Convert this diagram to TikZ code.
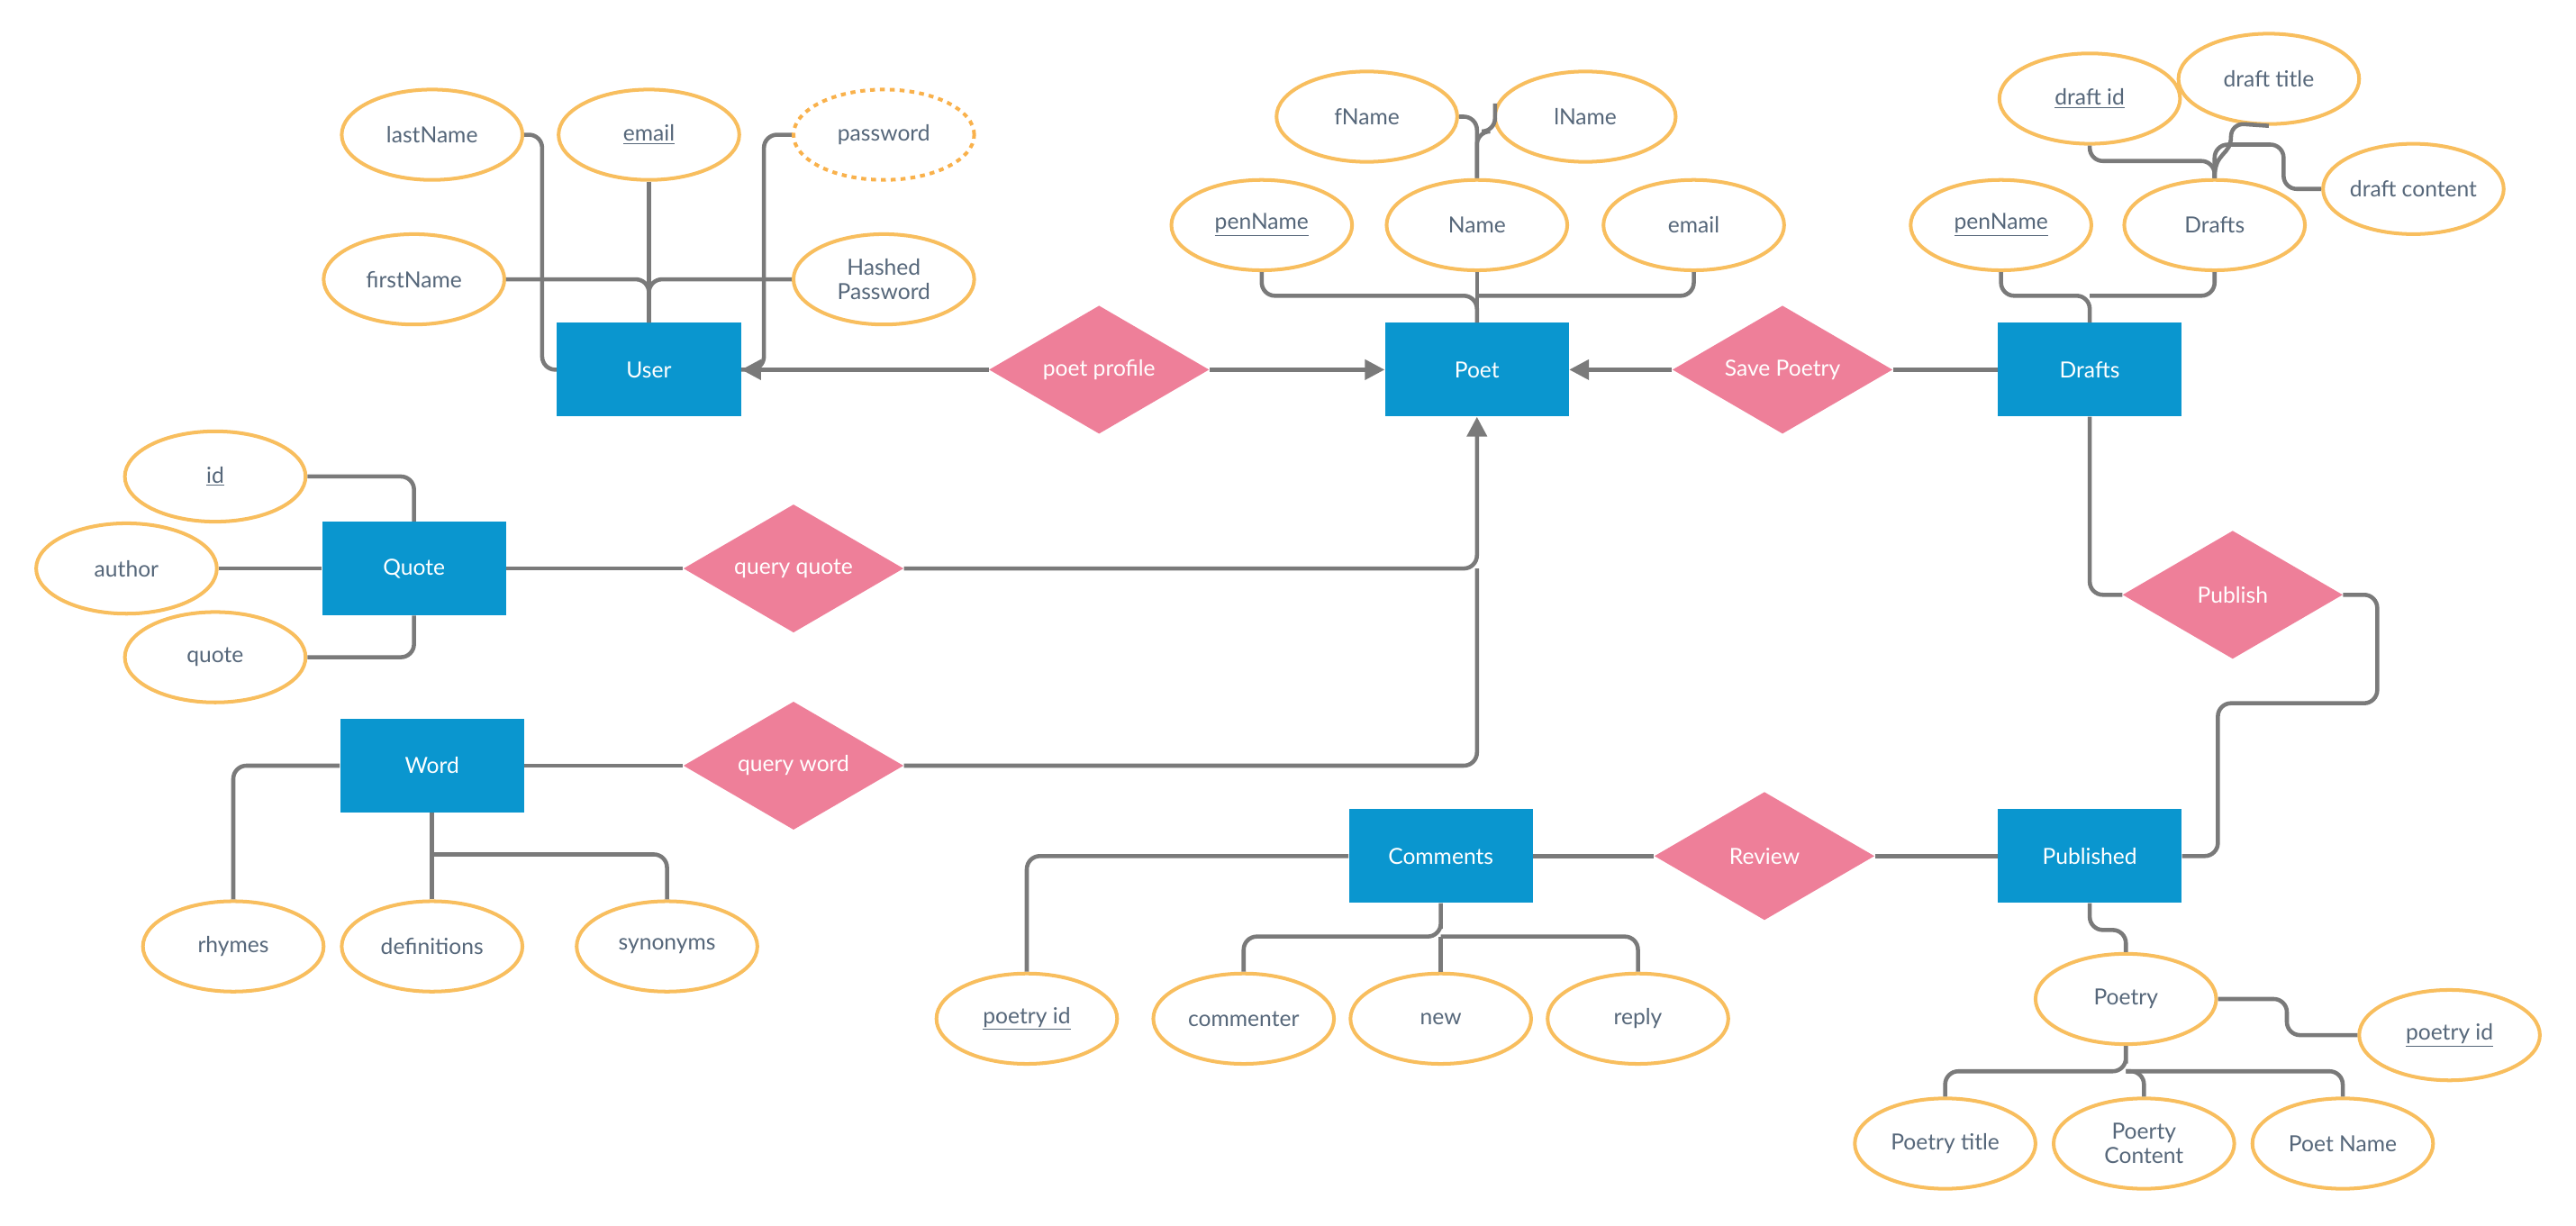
\documentclass[tikz,border=0pt]{standalone}
\usepackage{fontspec}
\setmainfont{Lato}
\usetikzlibrary{shapes.geometric,arrows.meta,calc}
\definecolor{ent}{HTML}{0A96CF}
\definecolor{rel}{HTML}{EE7F99}
\definecolor{att}{HTML}{F8BE5E}
\definecolor{ln}{HTML}{7A7A7A}
\definecolor{tx}{HTML}{56677A}
\begin{document}
\begin{tikzpicture}[x=1pt,y=-1pt,
  every node/.style={font=\fontsize{13.5}{16}\selectfont},
  E/.style={rectangle,fill=ent,text=white,minimum width=112pt,minimum height=57pt,inner sep=0pt},
  R/.style={diamond,fill=rel,text=white,minimum width=134pt,minimum height=78pt,aspect=1.72,inner sep=0pt},
  A/.style={ellipse,draw=att,line width=2.2pt,fill=white,text=tx,minimum width=110pt,minimum height=55pt,inner sep=0pt,align=center},
  K/.style={A,dashed,draw=att!80!orange},
  L/.style={draw=ln,line width=2.5pt,rounded corners=8pt},
  AR/.style={L,-{Triangle[length=12pt,width=12pt]}}]
\useasboundingbox (0,0) rectangle (1568,746);
% entities
\node[E] (user) at (395,225) {User};
\node[E] (poet) at (899,225) {Poet};
\node[E] (drafts) at (1272,225) {Drafts};
\node[E] (quote) at (252,346) {Quote};
\node[E] (word) at (263,466) {Word};
\node[E] (comm) at (877,521) {Comments};
\node[E] (pub) at (1272,521) {Published};
% relationships
\node[R] (pp) at (669,225) {poet profile};
\node[R] (sp) at (1085,225) {Save Poetry};
\node[R] (qq) at (483,346) {query quote};
\node[R] (qw) at (483,466) {query word};
\node[R] (publ) at (1359,362) {Publish};
\node[R] (rev) at (1074,521) {Review};
% attributes
\node[A] (lastn) at (263,82) {lastName};
\node[A] (uemail) at (395,82) {\underline{email}};
\node[K] (pw) at (538,82) {password};
\node[A] (firstn) at (252,170) {firstName};
\node[A] (hpw) at (538,170) {Hashed\\[-1pt]Password};
\node[A] (fn) at (832,71) {fName};
\node[A] (lnm) at (965,71) {lName};
\node[A] (pen1) at (768,137) {\underline{penName}};
\node[A] (name) at (899,137) {Name};
\node[A] (pemail) at (1031,137) {email};
\node[A] (did) at (1272,60) {\underline{draft id}};
\node[A] (dtitle) at (1381,48) {draft title};
\node[A] (dcont) at (1469,115) {draft content};
\node[A] (pen2) at (1218,137) {\underline{penName}};
\node[A] (dr) at (1348,137) {Drafts};
\node[A] (qid) at (131,290) {\underline{id}};
\node[A] (auth) at (77,346) {author};
\node[A] (qt) at (131,400) {quote};
\node[A] (rhy) at (142,576) {rhymes};
\node[A] (defs) at (263,576) {definitions};
\node[A] (syn) at (406,576) {synonyms};
\node[A] (cpid) at (625,620) {\underline{poetry id}};
\node[A] (cmtr) at (757,620) {commenter};
\node[A] (new) at (877,620) {new};
\node[A] (reply) at (997,620) {reply};
\node[A] (poetry) at (1294,608) {Poetry};
\node[A] (ppid) at (1491,630) {\underline{poetry id}};
\node[A] (ptitle) at (1184,696) {Poetry title};
\node[A] (pcont) at (1305,696) {Poerty\\[-1pt]Content};
\node[A] (pname) at (1426,696) {Poet Name};
% user
\begin{scope}[on background layer/.style={}]
\draw[L] (lastn.east) -| (330,225) -- (user.west);
\draw[L] (uemail.south) -- (user.north);
\draw[L] (firstn.east) -| (user.north);
\draw[L] (hpw.west) -| (user.north);
\draw[L] (pw.west) -| (465,225) -- (user.east);
\draw[AR] (pp.west) -- (user.east);
\draw[AR] (pp.east) -- (poet.west);
% poet
\draw[L] (name.south) -- (poet.north);
\draw[L] (pen1.south) |- (899,180) -- (poet.north);
\draw[L] (pemail.south) |- (899,180);
\draw[L] (fn.east) -| (name.north);
\draw[L] (910,63) |- (899,80) -- (name.north);
\draw[AR] (sp.west) -- (poet.east);
\draw[L] (sp.east) -- (drafts.west);
% drafts
\draw[L] (pen2.south) |- (1272,180) -- (drafts.north);
\draw[L] (dr.south) |- (1272,180);
\draw[L] (did.south) |- (1348,98) -- (dr.north);
\draw[L] (dtitle.south) -- (1358,75) .. controls (1358,95) and (1348,92) .. (dr.north);
\draw[L] (dcont.west) -| (1390,88) -| (dr.north);
\draw[L] (drafts.south) |- (publ.west);
\draw[L] (publ.east) -| (1447,428) -| (1350,521) -- (pub.east);
% quote
\draw[L] (qid.east) -| (quote.north);
\draw[L] (auth.east) -- (quote.west);
\draw[L] (qt.east) -| (quote.south);
\draw[L] (quote.east) -- (qq.west);
\draw[AR] (qq.east) -| (poet.south);
\draw[L] (qw.east) -| (899,346);
\draw[L] (word.east) -- (qw.west);
% word
\draw[L] (word.west) -| (rhy.north);
\draw[L] (word.south) -- (defs.north);
\draw[L] (263,520) -| (syn.north);
% comments
\draw[L] (comm.west) -| (cpid.north);
\draw[L] (comm.south) |- (877,570) -| (cmtr.north);
\draw[L] (877,570) -| (reply.north);
\draw[L] (877,570) -- (new.north);
\draw[L] (comm.east) -- (rev.west);
\draw[L] (rev.east) -- (pub.west);
% published
\draw[L] (pub.south) |- (1294,566) -- (poetry.north);
\draw[L] (poetry.east) -| (1392,630) -- (ppid.west);
\draw[L] (poetry.south) |- (1294,652) -| (ptitle.north);
\draw[L] (1294,652) -| (pname.north);
\draw[L] (1294,652) -| (pcont.north);
\end{scope}
% redraw attribute nodes on top of lines
\foreach \n in {lastn,uemail,firstn,hpw,fn,lnm,pen1,name,pemail,did,dtitle,dcont,pen2,dr,qid,auth,qt,rhy,defs,syn,cpid,cmtr,new,reply,poetry,ppid,ptitle,pcont,pname}{}
\end{tikzpicture}
\end{document}
